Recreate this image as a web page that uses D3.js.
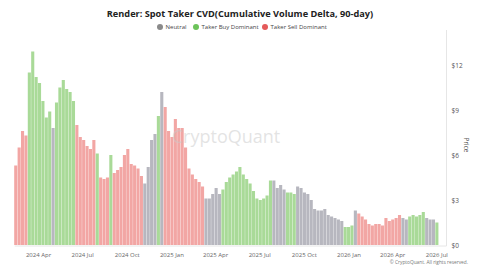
<!DOCTYPE html>
<html>
<head>
<meta charset="utf-8">
<script src="https://cdn.jsdelivr.net/npm/d3@7"></script>
<style>
  body { margin: 0; background: #fff; }
  text { font-family: "Open Sans", sans-serif; }
</style>
</head>
<body>
<script>
// weekly price of Render, first week starts on this Monday
var firstWeek = "2024-02-12";
var prices = [5.3, 6.5, 7.6, 7.3, 11.5, 12.9, 11.2, 10.8, 9.6, 8.5,
              8.9, 7.8, 9.5, 10.5, 11.0, 10.4, 10.2, 9.6, 8.0, 7.2,
              7.0, 6.6, 6.4, 7.0, 6.1, 4.5, 4.4, 4.5, 6.0, 4.8,
              5.0, 5.2, 6.0, 6.4, 5.4, 5.3, 5.1, 4.6, 4.1, 5.2,
              7.0, 7.4, 8.6, 10.2, 9.2, 7.6, 7.2, 8.4, 7.8, 7.8,
              6.5, 5.1, 4.7, 4.4, 4.2, 3.9, 3.1, 3.1, 3.4, 3.8,
              3.4, 3.7, 4.2, 4.5, 4.7, 4.9, 5.2, 4.7, 4.4, 4.1,
              3.6, 3.1, 3.0, 3.1, 3.3, 4.3, 4.3, 3.8, 4.0, 3.7,
              3.5, 3.5, 3.4, 3.9, 3.8, 3.5, 3.4, 3.0, 2.4, 2.3,
              2.3, 2.4, 2.0, 1.9, 1.8, 1.7, 1.6, 1.2, 1.2, 1.3,
              2.3, 2.1, 1.9, 1.7, 1.4, 1.3, 1.4, 1.4, 1.3, 1.8,
              1.6, 1.7, 1.8, 2.0, 1.8, 1.7, 1.9, 2.0, 1.9, 2.0,
              2.2, 1.8, 1.7, 1.7, 1.5];
// N = neutral, B = taker buy dominant, S = taker sell dominant
var regimes = ["S","S","S","S","B","B","B","B","B","B",
               "B","N","B","B","B","B","B","B","S","S",
               "S","S","S","S","B","S","S","S","B","S",
               "S","S","S","S","S","S","S","S","N","N",
               "N","N","B","N","S","S","S","S","S","S",
               "S","S","S","S","S","S","N","N","N","N",
               "N","B","B","B","B","B","B","B","B","B",
               "B","B","B","B","B","B","N","N","N","N",
               "B","B","B","N","N","N","N","N","N","N",
               "N","N","N","N","N","N","N","B","B","B",
               "N","S","S","S","S","S","S","S","S","S",
               "S","S","S","S","N","N","B","B","B","B",
               "B","N","N","N","B"];
var legendNames = ["Neutral", "Taker Buy Dominant", "Taker Sell Dominant"];
var legendKeys = ["N", "B", "S"];
var yTicks = [0, 3, 6, 9, 12];

function init(){
    var w = 480;
    var h = 270;

    var barColor = {N: "#b7b7bf", B: "#a9da98", S: "#f2a6a4"};
    var dotColor = {N: "#8a8a8a", B: "#6cc35a", S: "#e45a5a"};

    var start = d3.timeParse("%Y-%m-%d")(firstWeek);
    var weeks = prices.map(function(d, i){
        return d3.timeWeek.offset(start, i);
    });

    var xScale = d3.scaleTime()
                    .domain([start, new Date(2026, 6, 21)])
                    .range([14.2, 446]);

    var yScale = d3.scaleLinear()
                    .domain([0, 13.4])
                    .range([245, 44]);

    var svg = d3.select("body")
        .append("svg")
        .attr("width", w)
        .attr("height", h);

    //Bars
    svg.selectAll("rect.bar")
        .data(prices)
        .enter()
        .append("rect")
        .attr("class", "bar")
        .attr("x", function(d, i){ return xScale(weeks[i]); })
        .attr("y", function(d){ return yScale(d); })
        .attr("width", function(d, i){
            return xScale(d3.timeWeek.offset(weeks[i], 1)) - xScale(weeks[i]) - 0.3;
        })
        .attr("height", function(d){ return yScale(0) - yScale(d); })
        .attr("fill", function(d, i){ return barColor[regimes[i]]; });

    //Watermark
    svg.append("text")
        .attr("x", 226)
        .attr("y", 143)
        .attr("text-anchor", "middle")
        .attr("font-size", "18px")
        .attr("fill", "#c8c8c8")
        .attr("fill-opacity", 0.5)
        .text("CryptoQuant");

    //Right axis line
    svg.append("line")
        .attr("x1", 446.5).attr("x2", 446.5)
        .attr("y1", 30).attr("y2", 246)
        .attr("stroke", "#e6e6e6");

    //X axis
    var xAxis = d3.axisBottom(xScale)
        .ticks(d3.timeMonth.every(3))
        .tickSize(0)
        .tickPadding(7)
        .tickFormat(d3.timeFormat("%Y %b"));

    var gx = svg.append("g")
        .attr("transform", "translate(0,245.5)")
        .call(xAxis);
    gx.select(".domain").attr("stroke", "#e6e6e6");
    gx.selectAll("text")
        .attr("font-size", "6px")
        .attr("fill", "#666");

    //Y axis
    var yAxis = d3.axisRight(yScale)
        .tickValues(yTicks)
        .tickSize(0)
        .tickPadding(5)
        .tickFormat(function(d){ return "$" + d; });

    var gy = svg.append("g")
        .attr("transform", "translate(446.5,0)")
        .call(yAxis);
    gy.select(".domain").remove();
    gy.selectAll("text")
        .attr("font-size", "6.5px")
        .attr("fill", "#555");

    svg.append("text")
        .attr("transform", "translate(464,145) rotate(90)")
        .attr("text-anchor", "middle")
        .attr("font-size", "6.5px")
        .attr("fill", "#555")
        .text("Price");

    //Title
    svg.append("text")
        .attr("x", 240)
        .attr("y", 17)
        .attr("text-anchor", "middle")
        .attr("font-size", "9.2px")
        .attr("font-weight", "bold")
        .attr("fill", "#222")
        .text("Render: Spot Taker CVD(Cumulative Volume Delta, 90-day)");

    //Legend
    var legendX = [160, 196, 265];
    var legend = svg.selectAll("g.legend")
        .data(legendKeys)
        .enter()
        .append("g")
        .attr("class", "legend")
        .attr("transform", function(d, i){ return "translate(" + legendX[i] + ",27)"; });
    legend.append("circle")
        .attr("r", 3)
        .attr("fill", function(d){ return dotColor[d]; });
    legend.append("text")
        .attr("x", 5.5)
        .attr("y", 2.2)
        .attr("font-size", "6px")
        .attr("fill", "#444")
        .text(function(d, i){ return legendNames[i]; });

    //Copyright
    svg.append("text")
        .attr("x", 468)
        .attr("y", 264)
        .attr("text-anchor", "end")
        .attr("font-size", "4.8px")
        .attr("fill", "#777")
        .text("\u00a9 CryptoQuant. All rights reserved.");
}
window.onload = init;
</script>
</body>
</html>
